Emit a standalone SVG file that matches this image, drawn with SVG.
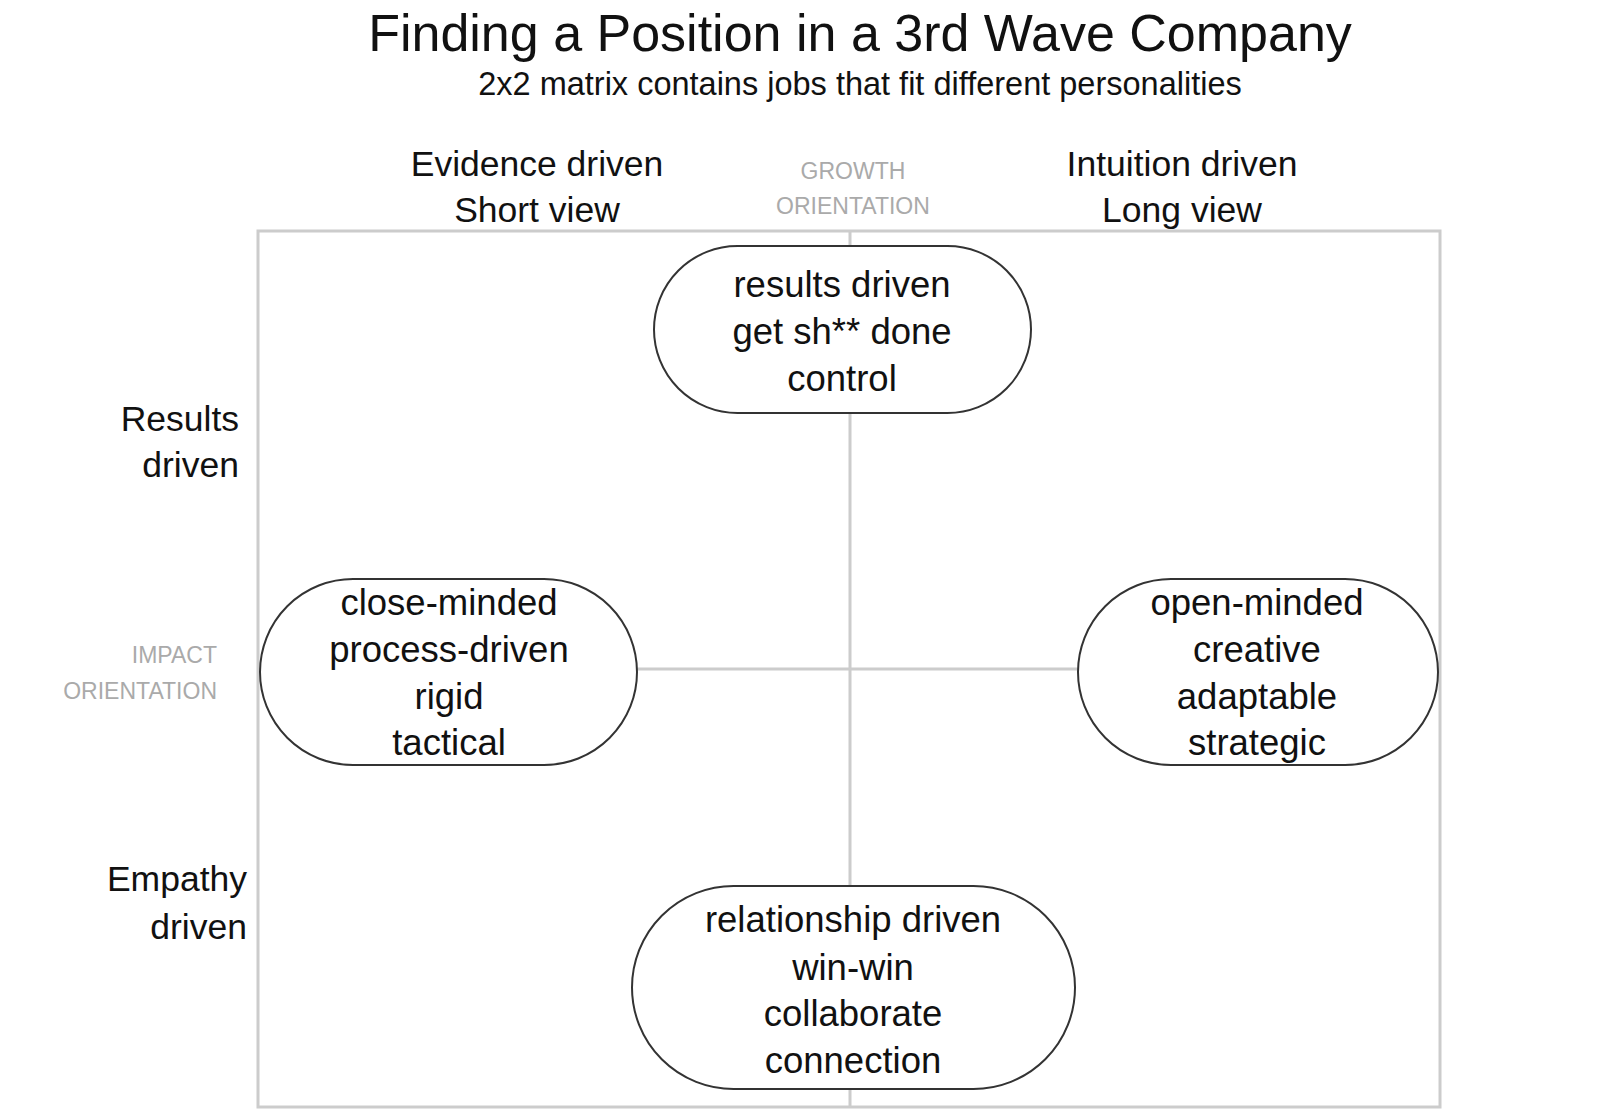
<svg xmlns="http://www.w3.org/2000/svg" width="1600" height="1120" viewBox="0 0 1600 1120">
<style>
text{font-family:"Liberation Sans",Arial,sans-serif;fill:#111;text-anchor:middle}
.title{font-size:52px}
.sub{font-size:32.5px}
.axis{font-size:35.5px}
.faint{font-size:23px;fill:#aaa}
.lbl{font-size:36.5px}
.r{text-anchor:end}
.node{fill:#fff;stroke:#333;stroke-width:2}
.grid{fill:none;stroke:#ccc;stroke-width:3}
</style>
<rect width="1600" height="1120" fill="#fff"/>
<g id="title">
<text class="title" x="860" y="51">Finding a Position in a 3rd Wave Company</text>
<text class="sub" x="860" y="95">2x2 matrix contains jobs that fit different personalities</text>
</g>
<g id="axis-labels">
<text class="axis" x="537" y="176">Evidence driven</text>
<text class="axis" x="537" y="222">Short view</text>
<text class="axis" x="1182" y="176">Intuition driven</text>
<text class="axis" x="1182" y="222">Long view</text>
<text class="faint" x="853" y="179">GROWTH</text>
<text class="faint" x="853" y="214">ORIENTATION</text>
<text class="axis r" x="239" y="431">Results</text>
<text class="axis r" x="239" y="477">driven</text>
<text class="faint r" x="217" y="663">IMPACT</text>
<text class="faint r" x="217" y="699">ORIENTATION</text>
<text class="axis r" x="247" y="891">Empathy</text>
<text class="axis r" x="247" y="939">driven</text>
</g>
<g id="connectors">
<rect class="grid" x="258" y="231" width="1182" height="876"/>
<line class="grid" x1="850" y1="231" x2="850" y2="1107"/>
<line class="grid" x1="258" y1="669" x2="1440" y2="669"/>
</g>
<g id="node-top">
<rect class="node" x="654" y="246" width="377" height="167" rx="83.5"/>
<text class="lbl" x="842" y="297">results driven</text>
<text class="lbl" x="842" y="344">get sh** done</text>
<text class="lbl" x="842" y="391">control</text>
</g>
<g id="node-left">
<rect class="node" x="260" y="579" width="377" height="186" rx="93"/>
<text class="lbl" x="449" y="615">close-minded</text>
<text class="lbl" x="449" y="662">process-driven</text>
<text class="lbl" x="449" y="709">rigid</text>
<text class="lbl" x="449" y="755">tactical</text>
</g>
<g id="node-right">
<rect class="node" x="1078" y="579" width="360" height="186" rx="93"/>
<text class="lbl" x="1257" y="615">open-minded</text>
<text class="lbl" x="1257" y="662">creative</text>
<text class="lbl" x="1257" y="709">adaptable</text>
<text class="lbl" x="1257" y="755">strategic</text>
</g>
<g id="node-bottom">
<rect class="node" x="632" y="886" width="443" height="203" rx="101.5"/>
<text class="lbl" x="853" y="932">relationship driven</text>
<text class="lbl" x="853" y="980">win-win</text>
<text class="lbl" x="853" y="1026">collaborate</text>
<text class="lbl" x="853" y="1073">connection</text>
</g>
</svg>
